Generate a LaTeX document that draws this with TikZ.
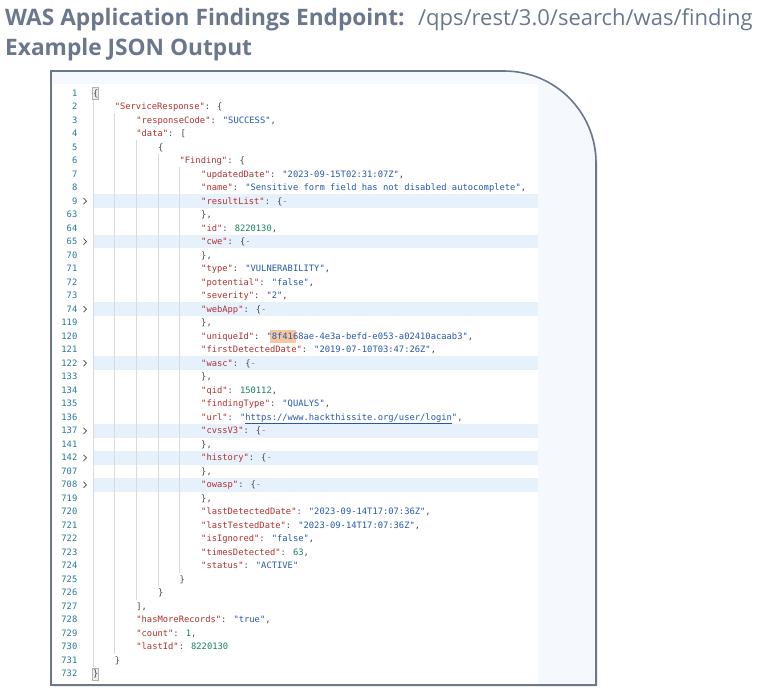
\documentclass[tikz,border=0pt]{standalone}
\usepackage{fontspec}
\setmainfont{Open Sans}
\newfontfamily\codefont{DejaVu Sans Mono}
\usetikzlibrary{positioning}
\definecolor{T1}{RGB}{106,119,140}
\definecolor{F1}{RGB}{108,120,138}
\definecolor{B1}{RGB}{245,248,252}
\definecolor{K1}{RGB}{176,48,48}
\definecolor{S1}{RGB}{38,88,170}
\definecolor{N1}{RGB}{22,130,90}
\definecolor{P1}{RGB}{70,70,70}
\definecolor{L1}{RGB}{40,120,150}
\definecolor{H1}{RGB}{231,241,252}
\definecolor{G1}{RGB}{218,218,218}
\definecolor{O1}{RGB}{247,200,160}
\tikzstyle{title}=[anchor=base west, inner sep=0, text=T1, font=\fontsize{22.7}{23}\selectfont]
\tikzstyle{code}=[anchor=base west, inner sep=0, text=P1, font=\codefont\fontsize{8.8}{10}\selectfont]
\tikzstyle{lnum}=[code, anchor=base east, text=L1]
\tikzstyle{guide}=[G1, line width=0.6]
\tikzstyle{chev}=[P1, line width=0.7]
\tikzstyle{brk}=[fill=gray!15, draw=gray!60, line width=0.4]
\newcommand{\jk}[1]{\textcolor{K1}{"#1"}}
\newcommand{\js}[1]{\textcolor{S1}{"#1"}}
\newcommand{\jn}[1]{\textcolor{N1}{#1}}
\newcommand{\jf}{\{\textcolor{gray}{-}}

\begin{document}
\begin{tikzpicture}[x=1pt, y=-1pt]
    \useasboundingbox (0,0) rectangle (768,691);
    \node[title] (head) at (5,25) {\bfseries WAS Application Findings Endpoint:};
    \node[title, font=\fontsize{22}{23}\selectfont] (api) at ([xshift=13]head.base east) {/qps/rest/3.0/search/was/finding};
    \node[title] (sub) at (5,55) {\bfseries Example JSON Output};
    % frame with the big round corner
    \fill[gray!22, shift={(1.5,1.5)}] (51,685) -- (51,71) -- (504,71) .. controls (555,71) and (596,112) .. (596,163) -- (596,685) -- cycle;
    \draw[F1, line width=1.6, fill=B1] (51,685) -- (51,71) -- (504,71) .. controls (555,71) and (596,112) .. (596,163) -- (596,685) -- cycle;
    \fill[white] (52.5,84) rectangle (538,684);
    \foreach \idx in {8,11,16,20,25,27,29}{
      \fill[H1] (93,93+13.51*\idx-6.75) rectangle (538,93+13.51*\idx+6.75);
      \draw[chev] (83.5,93+13.51*\idx-3) -- (86.5,93+13.51*\idx) -- (83.5,93+13.51*\idx+3);
    }
    \foreach \lvl/\a/\b in {0/1/42,1/2/41,2/4/37,3/5/36,4/6/35}
      \draw[guide] (93+21.6*\lvl,93+13.51*\a-6.75) -- (93+21.6*\lvl,93+13.51*\b+6.75);
    \foreach \idx in {0,43}
      \draw[brk] (92.3,93+13.51*\idx-6) rectangle (98.3,93+13.51*\idx+6);
    \fill[O1] (269.8,330.2) rectangle (296.3,342.5);
    \foreach \nr/\lvl/\txt [count=\idx from 0] in {
      1/0/{\{}, 2/1/{\jk{ServiceResponse}: \{}, 3/2/{\jk{responseCode}: \js{SUCCESS},},
      4/2/{\jk{data}: [}, 5/3/{\{}, 6/4/{\jk{Finding}: \{},
      7/5/{\jk{updatedDate}: \js{2023-09-15T02:31:07Z},},
      8/5/{\jk{name}: \js{Sensitive form field has not disabled autocomplete},},
      9/5/{\jk{resultList}: \jf}, 63/5/{\},}, 64/5/{\jk{id}: \jn{8220130},},
      65/5/{\jk{cwe}: \jf}, 70/5/{\},}, 71/5/{\jk{type}: \js{VULNERABILITY},},
      72/5/{\jk{potential}: \js{false},}, 73/5/{\jk{severity}: \js{2},},
      74/5/{\jk{webApp}: \jf}, 119/5/{\},},
      120/5/{\jk{uniqueId}: \js{8f4168ae-4e3a-befd-e053-a02410acaab3},},
      121/5/{\jk{firstDetectedDate}: \js{2019-07-10T03:47:26Z},},
      122/5/{\jk{wasc}: \jf}, 133/5/{\},}, 134/5/{\jk{qid}: \jn{150112},},
      135/5/{\jk{findingType}: \js{QUALYS},},
      136/5/{\jk{url}: \js{\underline{https://www.hackthissite.org/user/login}},},
      137/5/{\jk{cvssV3}: \jf}, 141/5/{\},}, 142/5/{\jk{history}: \jf}, 707/5/{\},},
      708/5/{\jk{owasp}: \jf}, 719/5/{\},},
      720/5/{\jk{lastDetectedDate}: \js{2023-09-14T17:07:36Z},},
      721/5/{\jk{lastTestedDate}: \js{2023-09-14T17:07:36Z},},
      722/5/{\jk{isIgnored}: \js{false},}, 723/5/{\jk{timesDetected}: \jn{63},},
      724/5/{\jk{status}: \js{ACTIVE}}, 725/4/{\}}, 726/3/{\}}, 727/2/{],},
      728/2/{\jk{hasMoreRecords}: \js{true},}, 729/2/{\jk{count}: \jn{1},},
      730/2/{\jk{lastId}: \jn{8220130}}, 731/1/{\}}, 732/0/{\}}}{
      \pgfmathsetmacro\yy{93+13.51*\idx}
      \node[lnum] (n\idx) at (77.5,\yy+3) {\nr};
      \node[code] (c\idx) at (93+21.6*\lvl,\yy+3) {\txt};
    }
\end{tikzpicture}
\end{document}
